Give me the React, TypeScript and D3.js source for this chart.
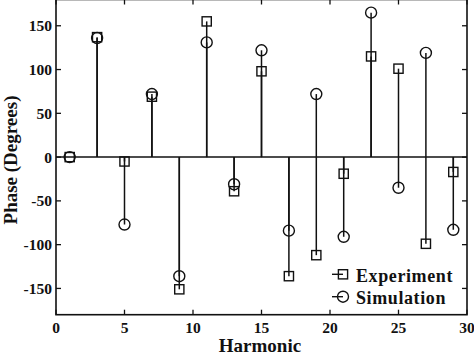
import React from "react";
import * as d3 from "d3";

const harmonics = [1, 3, 5, 7, 9, 11, 13, 15, 17, 19, 21, 23, 25, 27, 29];
const experiment = [0, 137, -5, 69, -151, 155, -39, 98, -136, -112, -19, 115, 101, -99, -17];
const simulation = [0, 136, -77, 72, -136, 131, -31, 122, -84, 72, -91, 165, -35, 119, -83];
const xTicks = [0, 5, 10, 15, 20, 25, 30];
const yTicks = [-150, -100, -50, 0, 50, 100, 150];
const seriesNames = ["Experiment", "Simulation"];

const W = 474;
const H = 356;
const left = 56;
const right = 467;
const top = -0.5;
const bottom = 314.7;
const FONT = "'Liberation Serif', 'Times New Roman', serif";

export default function App() {
  const x = d3.scaleLinear().domain([0, 30]).range([left, right]);
  const y = d3.scaleLinear().domain([-180, 180]).range([bottom, top]);
  const tickLen = 5;

  const square = (cx: number, cy: number, key: string) => (
    <rect key={key} x={cx - 4.6} y={cy - 4.6} width={9.2} height={9.2} fill="none" stroke="#111" strokeWidth={1.4} />
  );
  const circle = (cx: number, cy: number, key: string) => (
    <circle key={key} cx={cx} cy={cy} r={5.5} fill="none" stroke="#111" strokeWidth={1.4} />
  );

  return (
    <svg width={W} height={H} style={{ position: "absolute", left: 0, top: 0, display: "block", background: "#fff" }}>
      <rect x={0} y={0} width={W} height={H} fill="#fff" />
      {/* zero baseline */}
      <line x1={left} x2={right} y1={y(0)} y2={y(0)} stroke="#111" strokeWidth={1.5} />
      {/* stems */}
      {harmonics.map((h, i) => (
        <line key={"se" + i} x1={x(h)} x2={x(h)} y1={y(0)} y2={y(experiment[i])} stroke="#111" strokeWidth={1.5} />
      ))}
      {harmonics.map((h, i) => (
        <line key={"ss" + i} x1={x(h)} x2={x(h)} y1={y(0)} y2={y(simulation[i])} stroke="#111" strokeWidth={1.5} />
      ))}
      {harmonics.map((h, i) => square(x(h), y(experiment[i]), "me" + i))}
      {harmonics.map((h, i) => circle(x(h), y(simulation[i]), "ms" + i))}
      {/* axes box */}
      <rect x={left} y={top} width={right - left} height={bottom - top} fill="none" stroke="#111" strokeWidth={1.6} />
      {xTicks.map((t) => (
        <g key={"xt" + t}>
          <line x1={x(t)} x2={x(t)} y1={bottom} y2={bottom - tickLen} stroke="#111" strokeWidth={1.3} />
          <line x1={x(t)} x2={x(t)} y1={top} y2={top + tickLen} stroke="#111" strokeWidth={1.3} />
          <text x={x(t)} y={333} textAnchor="middle" fontFamily={FONT} fontWeight="bold" fontSize={15.5} fill="#111">
            {t}
          </text>
        </g>
      ))}
      {yTicks.map((t) => (
        <g key={"yt" + t}>
          <line x1={left} x2={left + tickLen} y1={y(t)} y2={y(t)} stroke="#111" strokeWidth={1.3} />
          <line x1={right} x2={right - tickLen} y1={y(t)} y2={y(t)} stroke="#111" strokeWidth={1.3} />
          <text x={52} y={y(t)} dy="0.35em" textAnchor="end" fontFamily={FONT} fontWeight="bold" fontSize={15.5} fill="#111">
            {t}
          </text>
        </g>
      ))}
      {/* axis labels */}
      <text x={260} y={352} textAnchor="middle" fontFamily={FONT} fontWeight="bold" fontSize={19} fill="#111">
        Harmonic
      </text>
      <text
        transform={`translate(17, ${160}) rotate(-90)`}
        textAnchor="middle"
        fontFamily={FONT}
        fontWeight="bold"
        fontSize={19}
        fill="#111"
      >
        Phase (Degrees)
      </text>
      {/* legend */}
      <g>
        <line x1={332} x2={343} y1={274.3} y2={274.3} stroke="#111" strokeWidth={1.4} />
        {square(343, 274.3, "le")}
        <text x={356} y={281.5} fontFamily={FONT} fontWeight="bold" fontSize={18} fill="#111" letterSpacing={0.6}>
          {seriesNames[0]}
        </text>
        <line x1={332} x2={343} y1={296.7} y2={296.7} stroke="#111" strokeWidth={1.4} />
        {circle(343, 296.7, "ls")}
        <text x={356} y={304} fontFamily={FONT} fontWeight="bold" fontSize={18} fill="#111" letterSpacing={0.6}>
          {seriesNames[1]}
        </text>
      </g>
    </svg>
  );
}
